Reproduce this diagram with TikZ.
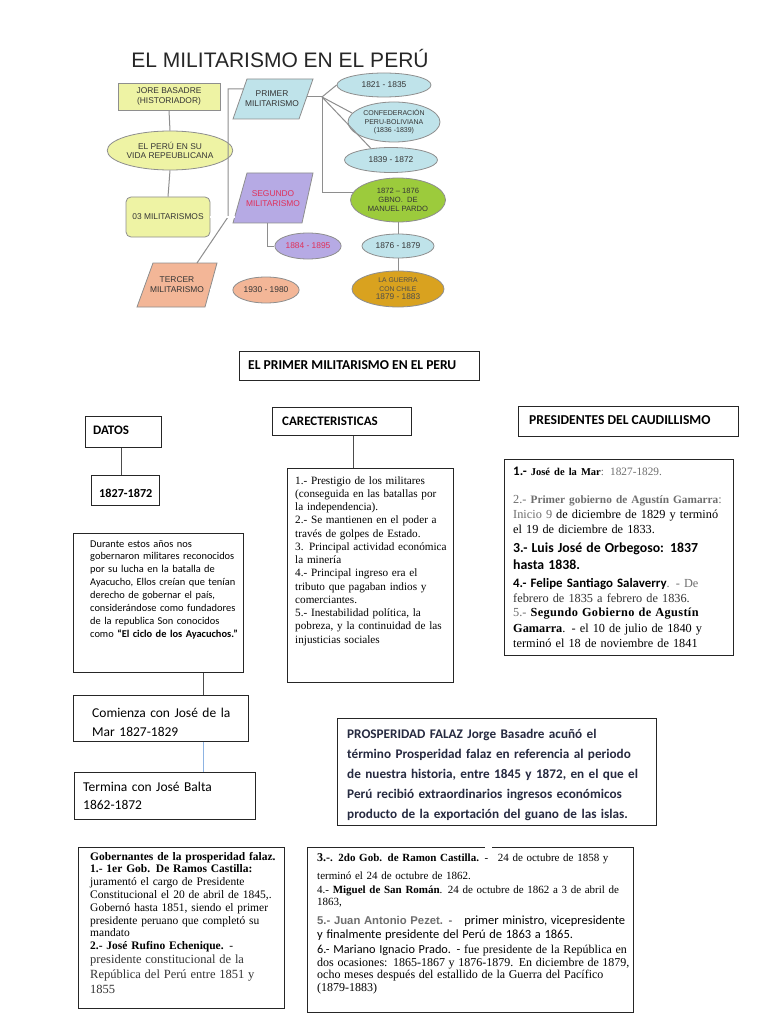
\documentclass[tikz,border=0pt]{standalone}
\usepackage{fontspec}
\setmainfont{Liberation Serif}
\newfontfamily\calib{Carlito}
\newfontfamily\arialf{Liberation Sans}
\usetikzlibrary{shapes.geometric,calc}
\definecolor{yg}{HTML}{EEF3A4}
\definecolor{cyf}{HTML}{BFE3EA}
\definecolor{puf}{HTML}{B6AAE4}
\definecolor{saf}{HTML}{F3B697}
\definecolor{grf}{HTML}{9CCB3C}
\definecolor{gof}{HTML}{D9A21F}
\definecolor{bord}{HTML}{8E8E8E}
\definecolor{ttx}{HTML}{353535}
\definecolor{redt}{HTML}{E0305A}
\definecolor{gtx}{HTML}{6E6E6E}
\definecolor{navy}{HTML}{262A40}
\definecolor{lblue}{HTML}{8DB3E2}
\begin{document}
\begin{tikzpicture}[x=1pt,y=-1pt,
 tbox/.style={draw=bord, line width=0.8pt, text=ttx, font=\arialf\fontsize{8.4}{9.8}\selectfont, align=center, inner sep=1pt},
 tell/.style={tbox, ellipse},
 pgram/.style={draw=bord, line width=0.8pt},
 tline/.style={draw=bord, line width=1pt},
 dline/.style={draw=bord, line width=0.6pt, double=white, double distance=1.3pt},
 wbox/.style={draw=black!85, line width=0.8pt, inner sep=0pt, anchor=north west},
 wtxt/.style={inner sep=0pt, anchor=base west, align=left},
 cline/.style={draw=black!70, line width=0.7pt},
]
\useasboundingbox (0,0) rectangle (768,1024);
\fill[white] (0,0) rectangle (768,1024);

% ---------- top diagram ----------
\node[font=\arialf\fontsize{21}{21}\selectfont, text=black!85, anchor=base, inner sep=0] (title) at (280,68) {EL MILITARISMO EN EL PERÚ};

\node[tbox, fill=yg, minimum width=102, minimum height=27] (jore) at (169,96.5) {JORE BASADRE\\(HISTORIADOR)};
\node[tell, fill=yg, minimum width=106, minimum height=39] (peru) at (170,150.5) {EL PERÚ EN SU\\VIDA REPEUBLICANA};
\node[tbox, fill=yg, rounded corners=5pt, minimum width=84, minimum height=40] (tres) at (168,217) {03 MILITARISMOS};

\draw[pgram, fill=cyf] (247,79) -- (313,79) -- (299,119) -- (233,119) -- cycle;
\node[tbox, draw=none] (prim) at (272,99) {PRIMER\\MILITARISMO};
\draw[pgram, fill=puf] (247,173) -- (313,173) -- (302,223) -- (233,223) -- cycle;
\node[tbox, draw=none, text=redt] (seg) at (273,199) {SEGUNDO\\MILITARISMO};
\draw[pgram, fill=saf] (153,263) -- (217,263) -- (205,307) -- (137,307) -- cycle;
\node[tbox, draw=none] (ter) at (177,285) {TERCER\\MILITARISMO};

\node[tell, fill=cyf, minimum width=94, minimum height=24] (a1821) at (384,85) {1821 - 1835};
\node[tell, fill=cyf, minimum width=92, minimum height=40, font=\arialf\fontsize{7}{8.5}\selectfont] (confed) at (394,122) {CONFEDERACIÓN\\PERU-BOLIVIANA\\(1836 -1839)};
\node[tell, fill=cyf, minimum width=93, minimum height=25] (a1839) at (391,160) {1839 - 1872};
\node[tell, fill=grf, minimum width=95, minimum height=44, font=\arialf\fontsize{7.6}{9.2}\selectfont] (pardo) at (398,200) {1872 – 1876\\GBNO.\ \ DE\\MANUEL PARDO};
\node[tell, fill=cyf, minimum width=72, minimum height=24] (a1876) at (398,246) {1876 - 1879};
\node[tell, fill=gof, minimum width=92, minimum height=36, font=\arialf\fontsize{6.8}{8.4}\selectfont, text=black!70] (guerra) at (398,289) {LA GUERRA\\CON CHILE\\{\fontsize{8.3}{9}\selectfont 1879 - 1883}};
\node[tell, fill=puf, minimum width=62, minimum height=26, text=redt] (a1884) at (308,246) {1884 - 1895};
\node[tell, fill=saf, minimum width=61, minimum height=26] (a1930) at (266,290) {1930 - 1980};

\coordinate (pL) at (243.5,89);
\coordinate (vtop) at (228,89);
\coordinate (vbot) at (228,217);
\coordinate (terT) at (197,263);
\coordinate (segL) at (234.7,217);
\coordinate (terR) at (209.6,290);
\coordinate (primR) at (306.7,97);
\coordinate (fan) at (322,97);
\coordinate (segB) at (267,223);

\draw[tline] (jore.south) -- (peru.north);
\draw[tline] (peru.south) -- (tres.north);
\draw[tline] (pL) -- (vtop) -- (vbot) -- (terT);
\draw[dline] (tres.east) -- (segL);
\draw[dline] (terR) -- (a1930.west);
\draw[tline] (primR) -- (fan);
\draw[tline] (fan) -- (a1821.west);
\draw[tline] (fan) -- (confed.168);
\draw[tline] (fan) -- (a1839.150);
\draw[tline] (fan) -- (fan |- pardo.170) -- (pardo.170);
\draw[tline] (pardo.south) -- (a1876.north);
\draw[tline] (a1876.south) -- (guerra.north);
\draw[tline] (segB) -- (segB |- a1884.west) -- (a1884.west);

% ---------- lower part ----------
\node[wbox, minimum width=240, minimum height=29] (hprim) at (239,351) {};
\node[wtxt, font=\calib\bfseries\fontsize{13.6}{15}\selectfont] (hprimT) at (248,369) {EL PRIMER MILITARISMO EN EL PERU};

\node[wbox, minimum width=76, minimum height=31] (datos) at (85,416) {};
\node[wtxt, font=\calib\bfseries\fontsize{13}{15}\selectfont] (datosT) at (93,434) {DATOS};

\node[wbox, minimum width=68, minimum height=30] (d1827) at (91,475) {};
\node[wtxt, font=\calib\bfseries\fontsize{12.2}{15}\selectfont] (d1827T) at (99,497) {1827-1872};

\node[wbox, minimum width=139, minimum height=28] (carac) at (272,407) {};
\node[wtxt, font=\calib\bfseries\fontsize{13}{15}\selectfont] (caracT) at (282,425) {CARECTERISTICAS};

\node[wbox, minimum width=166, minimum height=214] (chbox) at (287,468) {};
\node[wtxt, text width=160, font=\fontsize{11.2}{13.25}\selectfont] (chT) at (295,484) {1.- Prestigio de los militares\\
(conseguida en las batallas por\\
la independencia).\\
2.- Se mantienen en el poder a\\
través de golpes de Estado.\\
3. Principal actividad económica\\
la minería\\
4.- Principal ingreso era el\\
tributo que pagaban indios y\\
comerciantes.\\
5.- Inestabilidad política, la\\
pobreza, y la continuidad de las\\
injusticias sociales};

\node[wbox, minimum width=220, minimum height=30] (pres) at (518,406) {};
\node[wtxt, font=\calib\bfseries\fontsize{13.6}{15}\selectfont] (presT) at (529,424) {PRESIDENTES DEL CAUDILLISMO};

\node[wbox, minimum width=229, minimum height=196] (presbox) at (504,459) {};
\node[wtxt, text width=225, font=\fontsize{12.3}{15}\selectfont] (presboxT) at (513,475) {{\calib\bfseries\fontsize{13}{15}\selectfont 1.-} {\bfseries\fontsize{10.5}{15}\selectfont José de la Mar}{\color{gtx}\fontsize{11.3}{15}\selectfont: 1827-1829.}\\[13pt]
{\color{gtx}2.- {\bfseries\fontsize{11.3}{15}\selectfont Primer gobierno de Agustín Gamarra}:}\\
{\color{gtx}Inicio 9} de diciembre de 1829 y terminó\\
el 19 de diciembre de 1833.\\[4pt]
{\calib\bfseries\fontsize{13.8}{15}\selectfont 3.- Luis José de Orbegoso: 1837}\\[2pt]
{\calib\bfseries\fontsize{13.8}{15}\selectfont hasta 1838.}\\[3pt]
{\calib\bfseries\fontsize{12.9}{15}\selectfont 4.- Felipe Santiago Salaverry}{\color{gtx}. - De}\\
{\color{black!80}febrero de 1835 a febrero de 1836.}\\[-1pt]
{\color{gtx}5.-} {\bfseries\addfontfeature{LetterSpace=3}Segundo Gobierno de Agustín}\\[1pt]
{\bfseries Gamarra}. - el 10 de julio de 1840 y\\
terminó el 18 de noviembre de 1841};

\node[wbox, minimum width=170, minimum height=139] (dur) at (73,533) {};
\node[wtxt, text width=160, font=\calib\fontsize{10.4}{12.9}\selectfont] (durT) at (90,547) {Durante estos años nos\\
gobernaron militares reconocidos\\
por su lucha en la batalla de\\
Ayacucho, Ellos creían que tenían\\
derecho de gobernar el país,\\
considerándose como fundadores\\
de la republica Son conocidos\\
como \textbf{“El ciclo de los Ayacuchos.”}};

\node[wbox, minimum width=175, minimum height=46] (com) at (73,695) {};
\node[wtxt, text width=165, font=\calib\fontsize{13.5}{19}\selectfont] (comT) at (92,717) {Comienza con José de la\\Mar 1827-1829};

\node[wbox, minimum width=181, minimum height=47] (ter2) at (74,772) {};
\node[wtxt, text width=170, font=\calib\fontsize{13.5}{18}\selectfont] (terT2) at (83,791) {Termina con José Balta\\1862-1872};

\node[wbox, minimum width=319, minimum height=107] (pros) at (337,718) {};
\node[wtxt, text width=315, font=\calib\bfseries\fontsize{13.2}{20}\selectfont, text=navy] (prosT) at (347,738) {PROSPERIDAD FALAZ Jorge Basadre acuñó el\\
término Prosperidad falaz en referencia al periodo\\
de nuestra historia, entre 1845 y 1872, en el que el\\
Perú recibió extraordinarios ingresos económicos\\
producto de la exportación del guano de las islas.};

\node[wbox, minimum width=206, minimum height=161] (gob) at (78,847) {};
\node[wtxt, text width=195, font=\fontsize{11.5}{12.8}\selectfont] (gobT) at (90,860) {\textbf{Gobernantes de la prosperidad falaz.}\\
\textbf{1.- 1er Gob. De Ramos Castilla:}\\
juramentó el cargo de Presidente\\
Constitucional el 20 de abril de 1845,.\\
Gobernó hasta 1851, siendo el primer\\
presidente peruano que completó su\\
mandato\\
\textbf{2.- José Rufino Echenique.} -\\[1.5pt]
{\fontsize{12.5}{12.8}\selectfont\color{black!80}presidente constitucional de la}\\[1.5pt]
{\fontsize{12.5}{12.8}\selectfont\color{black!80}República del Perú entre 1851 y}\\[2.5pt]
{\fontsize{12.5}{12.8}\selectfont\color{black!80}1855}};

\node[wbox, minimum width=326, minimum height=165] (rb) at (307,847) {};
\draw[white, line width=1.6pt] (485,847) -- (492,847);
\node[wtxt, text width=320, font=\fontsize{11}{12.5}\selectfont] (rbT) at (317,861) {{\bfseries\fontsize{12}{12.5}\selectfont 3.-}{\bfseries . 2do Gob. de Ramon Castilla.} -\hspace{6pt} 24 de octubre de 1858 y\\[5.5pt]
terminó el 24 de octubre de 1862.\\[1.5pt]
4.- {\bfseries Miguel de San Román}. 24 de octubre de 1862 a 3 de abril de\\[-0.5pt]
1863,\\[6.5pt]
{\arialf\bfseries\fontsize{11.3}{12.5}\selectfont\color{gtx}5.- Juan Antonio Pezet. -}\hspace{12pt}{\calib\fontsize{12.5}{12.5}\selectfont primer ministro, vicepresidente}\\[1.5pt]
{\calib\fontsize{12.5}{12.5}\selectfont y finalmente presidente del Perú de 1863 a 1865.}\\[2.5pt]
{\calib\fontsize{12.3}{12.5}\selectfont 6.- Mariano Ignacio Prado. -} {\fontsize{12}{12.5}\selectfont fue presidente de la República en}\\[0.5pt]
{\fontsize{12}{12.5}\selectfont dos ocasiones: 1865-1867 y 1876-1879. En diciembre de 1879,}\\[-0.5pt]
{\fontsize{12}{12.5}\selectfont ocho meses después del estallido de la Guerra del Pacífico}\\[0.5pt]
{\fontsize{12}{12.5}\selectfont (1879-1883)}};

% connectors lower
\draw[cline] ([xshift=-2pt]datos.south) -- ([xshift=-2pt]datos.south |- d1827.north);
\draw[cline] ([xshift=11.5pt]carac.south) -- ([xshift=11.5pt]carac.south |- chbox.north);
\draw[cline] ([xshift=45pt]dur.south) -- ([xshift=45pt]dur.south |- com.north);
\draw[cline, draw=lblue] ([xshift=42.5pt]com.south) -- ([xshift=42.5pt]com.south |- ter2.north);
\end{tikzpicture}
\end{document}
